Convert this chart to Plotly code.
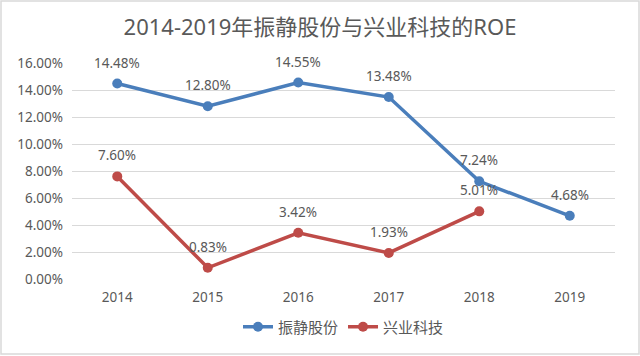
import plotly.graph_objects as go

years = ["2014", "2015", "2016", "2017", "2018", "2019"]
zhenjing = [14.48, 12.80, 14.55, 13.48, 7.24, 4.68]
xingye_years = ["2014", "2015", "2016", "2017", "2018"]
xingye = [7.60, 0.83, 3.42, 1.93, 5.01]
yticks = [0, 2, 4, 6, 8, 10, 12, 14, 16]

blue = "#4A7EBB"
red = "#BE4B48"
gray = "#595959"
font_fam = "Noto Sans, Noto Sans CJK SC, sans-serif"

fig = go.Figure()
fig.add_trace(go.Scatter(x=years, y=zhenjing, mode="lines+markers", name="振静股份",
                         line=dict(color=blue, width=3.5), marker=dict(size=10, color=blue)))
fig.add_trace(go.Scatter(x=xingye_years, y=xingye, mode="lines+markers", name="兴业科技",
                         line=dict(color=red, width=3.5), marker=dict(size=10, color=red)))

anns = []
for xs, ys in [(years, zhenjing), (xingye_years, xingye)]:
    for x, y in zip(xs, ys):
        anns.append(dict(x=years.index(x), y=y, xref="x", yref="y", text=f"{y:.2f}%",
                         showarrow=False, yshift=21,
                         font=dict(size=13.5, color=gray, family=font_fam)))

L, R, T, B = 72, 25, 63, 77
W, H = 640, 356
pw, ph = W - L - R, H - T - B
border = dict(type="rect", xref="paper", yref="paper",
              x0=(1 - L) / pw, x1=(W - 1 - L) / pw,
              y0=(H - B - (H - 2)) / ph, y1=(H - B - 1) / ph,
              line=dict(color="#D9D9D9", width=1.5), fillcolor="rgba(0,0,0,0)", layer="below")

fig.update_layout(
    width=W, height=H,
    margin=dict(l=L, r=R, t=T, b=B),
    paper_bgcolor="white", plot_bgcolor="white",
    title=dict(text="2014-2019年振静股份与兴业科技的ROE", x=0.5, xanchor="center",
               y=1 - 27 / H, yanchor="middle",
               font=dict(size=22, color=gray, family=font_fam)),
    font=dict(family=font_fam, color=gray),
    xaxis=dict(type="category", range=[-0.5, 5.5], showgrid=False, showline=False,
               ticks="", tickfont=dict(size=13.5, color=gray), zeroline=False,
               ticklabelstandoff=8),
    yaxis=dict(range=[0, 16], tickvals=yticks, ticktext=[f"{v:.2f}%" for v in yticks],
               showgrid=True, gridcolor="#D9D9D9", gridwidth=1, zeroline=False,
               showline=False, ticks="", tickfont=dict(size=13.5, color=gray),
               ticklabelstandoff=8),
    legend=dict(orientation="h", x=0.5, xanchor="center", y=-(327 - 279) / ph, yanchor="middle",
                font=dict(size=15, color=gray, family=font_fam)),
    annotations=anns,
    shapes=[border],
)

fig.write_html("out.html")
